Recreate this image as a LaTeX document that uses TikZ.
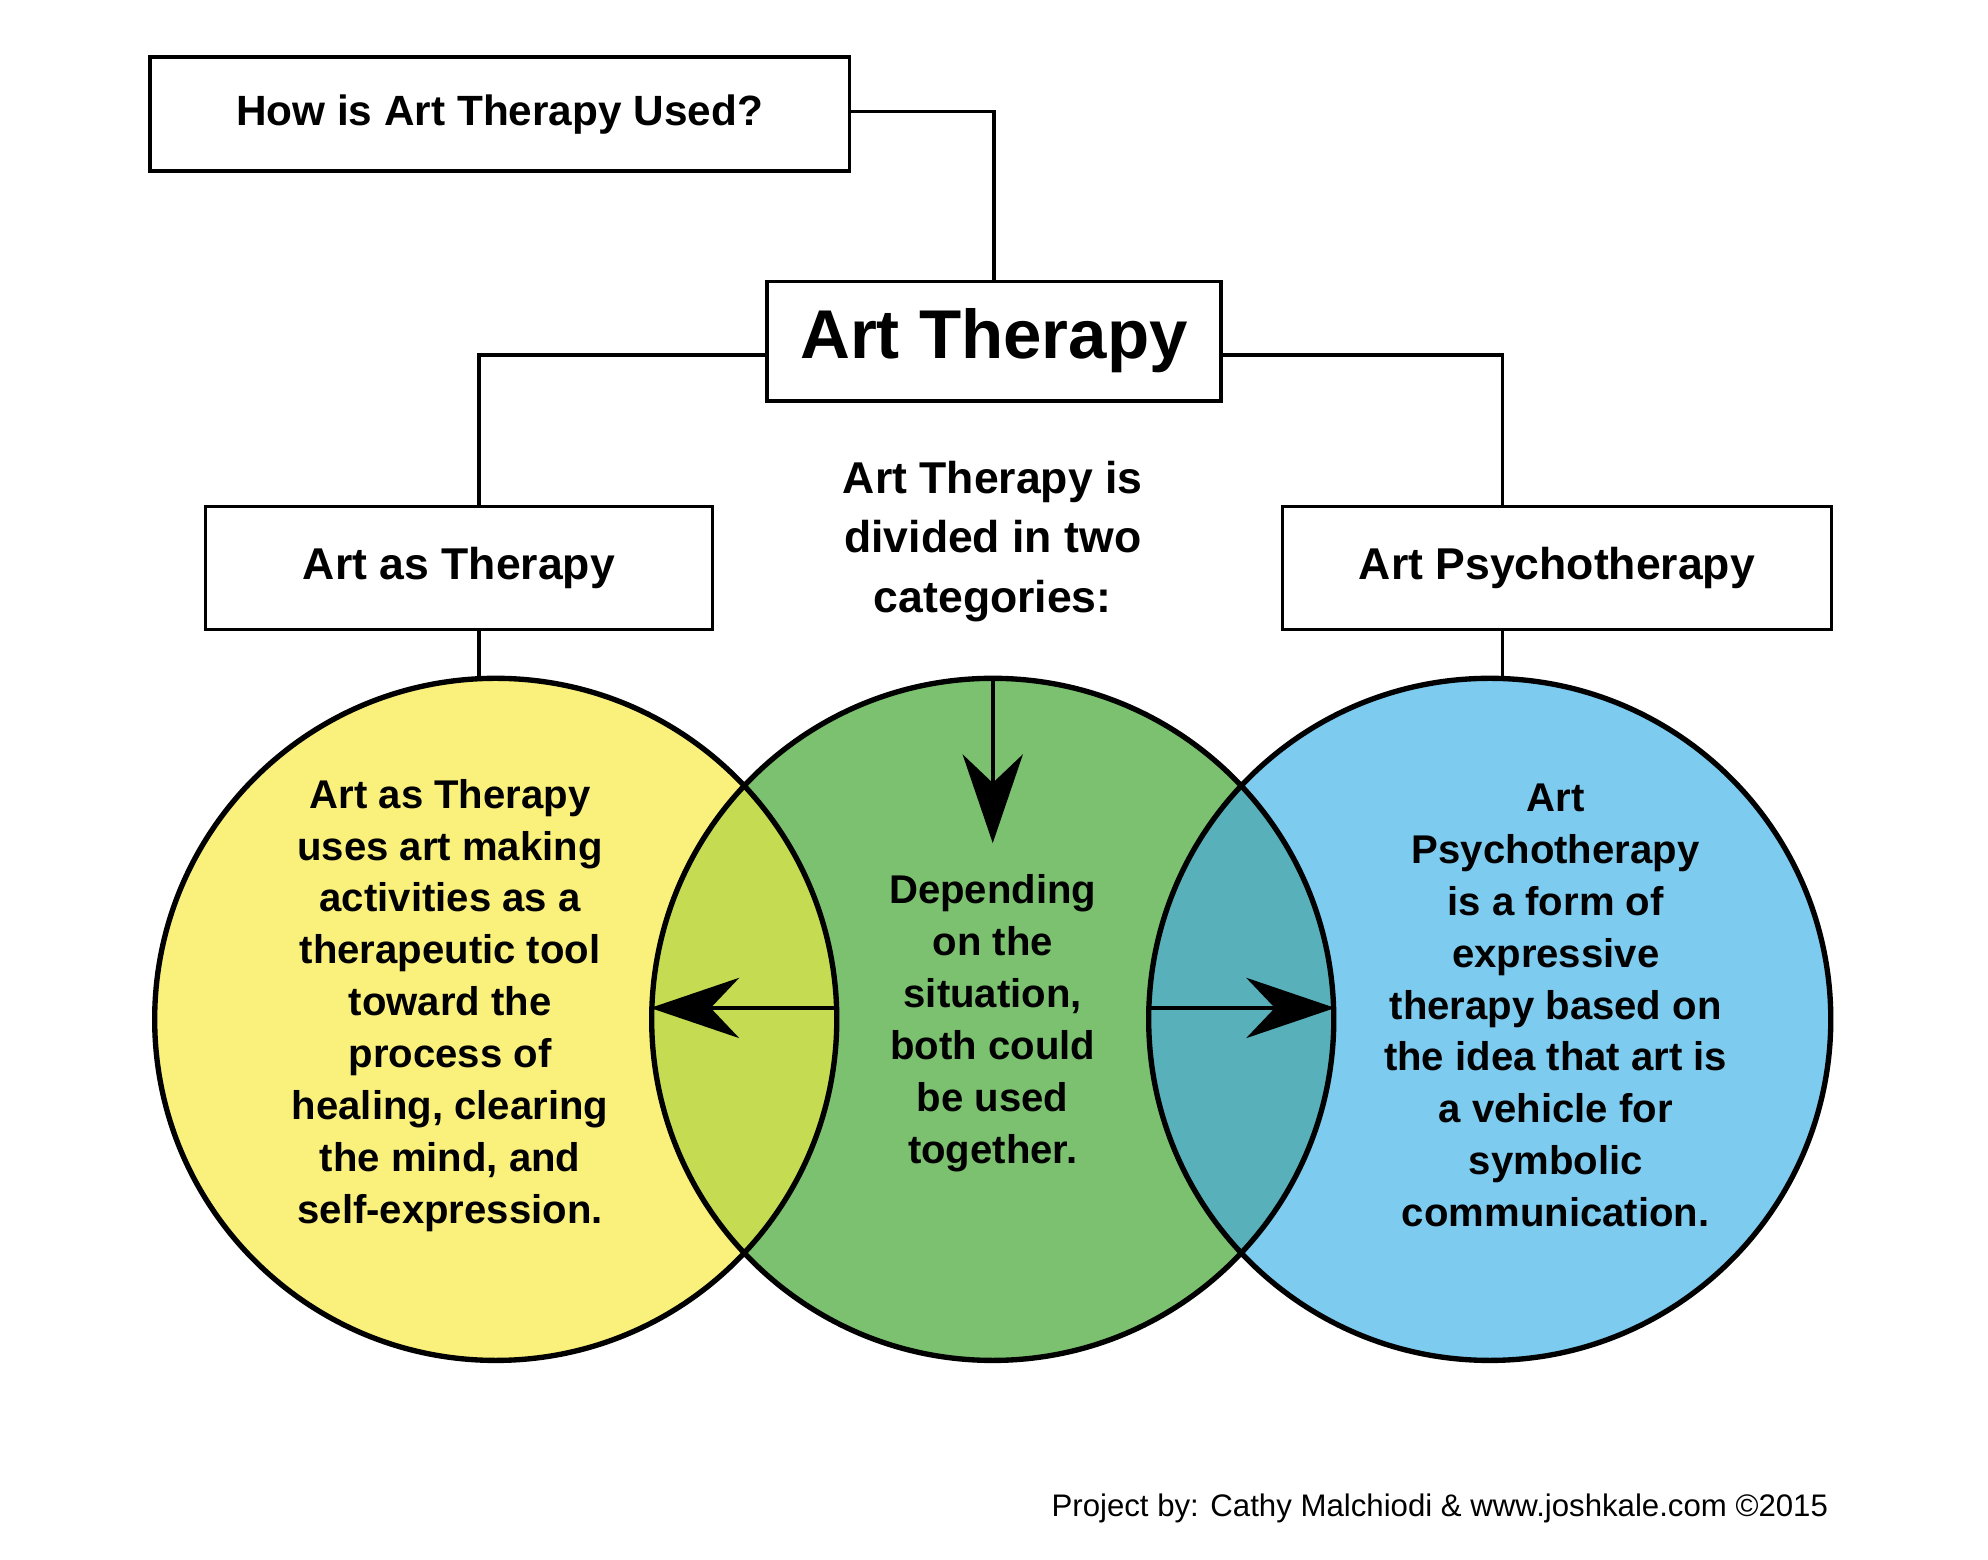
\documentclass[tikz,border=0pt]{standalone}
\usepackage{fontspec}
\setmainfont{Liberation Sans}
\usetikzlibrary{arrows.meta}
\definecolor{ArtYellow}{HTML}{FAF07C}
\definecolor{ArtGreen}{HTML}{7CC16F}
\definecolor{ArtBlue}{HTML}{7DCBEF}
\definecolor{MixYG}{HTML}{C4DB52}
\definecolor{MixGB}{HTML}{58B0BA}
\begin{document}
\begin{tikzpicture}[x=0.02cm,y=-0.02cm,font=\bfseries,
	BoxStyle/.style={draw=black,line width=1.7pt,inner sep=0pt,fill=white},
	LinkStyle/.style={draw=black,line width=1.7pt},
	RingStyle/.style={draw=black,line width=2.4pt},
	PointStyle/.style={line width=1.7pt,-{Stealth[length=1.4cm,width=0.95cm,inset=0.45cm]}},
	BodyText/.style={align=center,font=\bfseries\fontsize{18}{23.3}\selectfont}]
	\useasboundingbox (0,0) rectangle (1568,1230);
	% boxes
	\node[BoxStyle,minimum width=552*0.02cm,minimum height=90*0.02cm,font=\bfseries\fontsize{19}{23}\selectfont] (used) at (394,90) {How is Art Therapy Used?};
	\node[BoxStyle,minimum width=358*0.02cm,minimum height=94*0.02cm,font=\bfseries\fontsize{31}{36}\selectfont] (main) at (784,269) {Art Therapy};
	\node[BoxStyle,minimum width=400*0.02cm,minimum height=97*0.02cm,font=\bfseries\fontsize{20}{24}\selectfont] (asth) at (362,448) {Art as Therapy};
	\node[BoxStyle,minimum width=433*0.02cm,minimum height=97*0.02cm,font=\bfseries\fontsize{20}{24}\selectfont] (psy) at (1228,448) {Art Psychotherapy};
	\node[align=center,font=\bfseries\fontsize{20}{26.7}\selectfont] (divided) at (783,427) {Art Therapy is\\divided in two\\categories:};
	% circles
	\coordinate (cl) at (391,804);
	\coordinate (cm) at (783,804);
	\coordinate (cr) at (1175,804);
	\fill[ArtYellow] (cl) circle (269);
	\fill[ArtBlue] (cr) circle (269);
	\fill[ArtGreen] (cm) circle (269);
	\begin{scope}
		\clip (cl) circle (269);
		\fill[MixYG] (cm) circle (269);
	\end{scope}
	\begin{scope}
		\clip (cr) circle (269);
		\fill[MixGB] (cm) circle (269);
	\end{scope}
	\draw[RingStyle] (cl) circle (269) (cm) circle (269) (cr) circle (269);
	% connectors
	\draw[LinkStyle] (used.east |- 0,88) -| (main.north);
	\draw[LinkStyle] (main.west |- 0,280) -| (asth.north -| 378,0);
	\draw[LinkStyle] (main.east |- 0,280) -| (psy.north -| 1185,0);
	\coordinate (lt) at (378,535);
	\coordinate (rt) at (1185,535);
	\draw[LinkStyle] (asth.south -| lt) -- (lt);
	\draw[LinkStyle] (psy.south -| rt) -- (rt);
	% texts in circles
	\node[BodyText] (lefttext) at (355,793) {Art as Therapy\\uses art making\\activities as a\\therapeutic tool\\toward the\\process of\\healing, clearing\\the mind, and\\self-expression.};
	\node[BodyText] (midtext) at (783,807) {Depending\\on the\\situation,\\both could\\be used\\together.};
	\node[BodyText] (righttext) at (1227,793) {Art\\Psychotherapy\\is a form of\\expressive\\therapy based on\\the idea that art is\\a vehicle for\\symbolic\\communication.};
	% arrows
	\coordinate (mt) at (783,535);
	\coordinate (down) at (783,665);
	\coordinate (lfrom) at (662,795);
	\coordinate (lto) at (513,795);
	\coordinate (rfrom) at (904,795);
	\coordinate (rto) at (1053,795);
	\draw[PointStyle] (mt) -- (down);
	\draw[PointStyle] (lfrom) -- (lto);
	\draw[PointStyle] (rfrom) -- (rto);
	\node[anchor=east,font=\fontsize{14}{16}\selectfont] (credit) at (1448,1190) {Project by: Cathy Malchiodi \& www.joshkale.com ©2015};
\end{tikzpicture}
\end{document}
